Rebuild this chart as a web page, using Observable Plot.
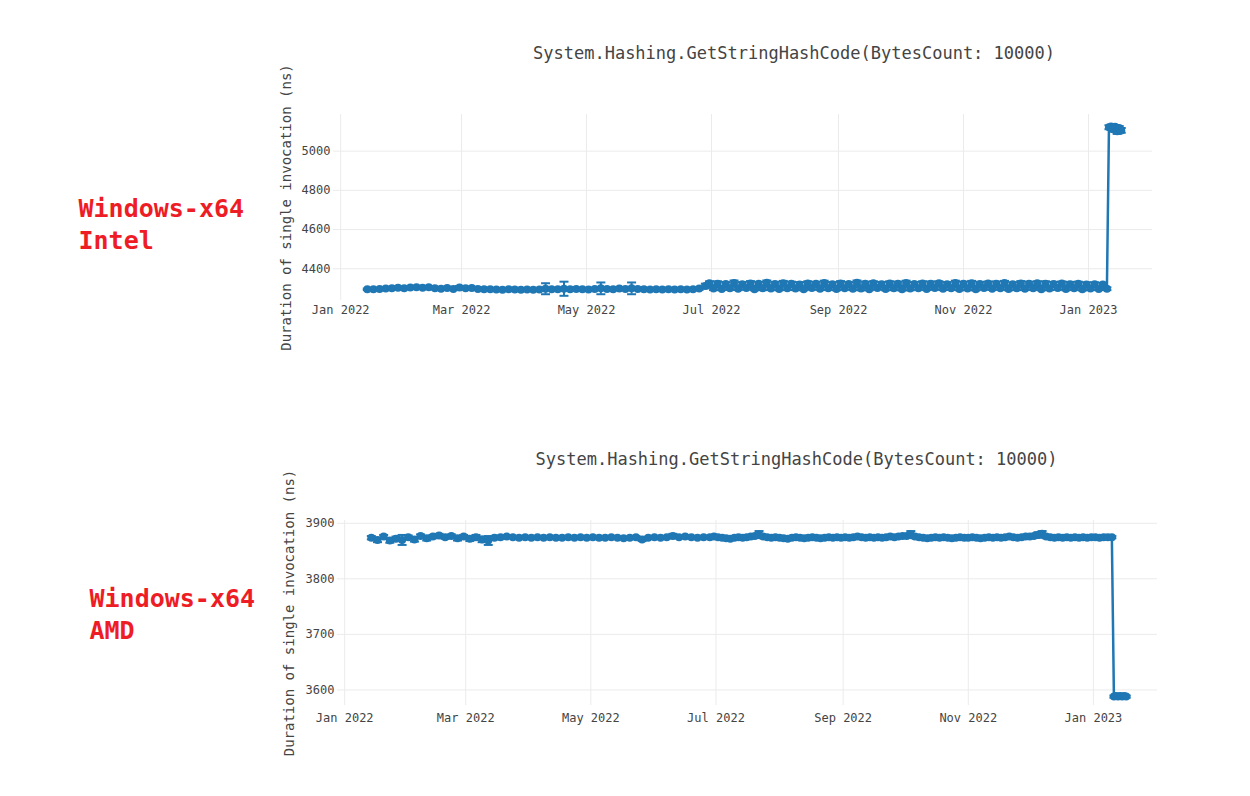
<!DOCTYPE html>
<html><head><meta charset="utf-8">
<script src="https://cdn.jsdelivr.net/npm/d3@7"></script>
<script src="https://cdn.jsdelivr.net/npm/@observablehq/plot@0.6"></script>
<style>
html,body{margin:0;padding:0;background:#fff;}
#root{position:relative;width:1250px;height:796px;overflow:hidden;background:#fff;}
#root svg{position:absolute;left:0;}
</style></head><body><div id="root"></div>
<script>
// ---- data ----
const runDates = [
 "2022-01-14","2022-01-17","2022-01-20","2022-01-23","2022-01-26","2022-01-29",
 "2022-02-01","2022-02-04","2022-02-07","2022-02-10","2022-02-13","2022-02-16","2022-02-19","2022-02-22","2022-02-25","2022-02-28",
 "2022-03-03","2022-03-06","2022-03-09","2022-03-12","2022-03-15","2022-03-18","2022-03-21","2022-03-24","2022-03-27","2022-03-30",
 "2022-04-02","2022-04-05","2022-04-08","2022-04-11","2022-04-14","2022-04-17","2022-04-20","2022-04-23","2022-04-26","2022-04-29",
 "2022-05-02","2022-05-05","2022-05-08","2022-05-11","2022-05-14","2022-05-17","2022-05-20","2022-05-23","2022-05-26","2022-05-29",
 "2022-06-01","2022-06-04","2022-06-07","2022-06-10","2022-06-13","2022-06-16","2022-06-19","2022-06-22","2022-06-25",
 "2022-06-28","2022-06-30",
 "2022-07-02","2022-07-04","2022-07-06","2022-07-08","2022-07-10","2022-07-12","2022-07-14","2022-07-16","2022-07-18","2022-07-20","2022-07-22","2022-07-24","2022-07-26","2022-07-28","2022-07-30",
 "2022-08-01","2022-08-03","2022-08-05","2022-08-07","2022-08-09","2022-08-11","2022-08-13","2022-08-15","2022-08-17","2022-08-19","2022-08-21","2022-08-23","2022-08-25","2022-08-27","2022-08-29","2022-08-31",
 "2022-09-02","2022-09-04","2022-09-06","2022-09-08","2022-09-10","2022-09-12","2022-09-14","2022-09-16","2022-09-18","2022-09-20","2022-09-22","2022-09-24","2022-09-26","2022-09-28","2022-09-30",
 "2022-10-02","2022-10-04","2022-10-06","2022-10-08","2022-10-10","2022-10-12","2022-10-14","2022-10-16","2022-10-18","2022-10-20","2022-10-22","2022-10-24","2022-10-26","2022-10-28","2022-10-30",
 "2022-11-01","2022-11-03","2022-11-05","2022-11-07","2022-11-09","2022-11-11","2022-11-13","2022-11-15","2022-11-17","2022-11-19","2022-11-21","2022-11-23","2022-11-25","2022-11-27","2022-11-29",
 "2022-12-01","2022-12-03","2022-12-05","2022-12-07","2022-12-09","2022-12-11","2022-12-13","2022-12-15","2022-12-17","2022-12-19","2022-12-21","2022-12-23","2022-12-25","2022-12-27","2022-12-29","2022-12-31",
 "2023-01-02","2023-01-04","2023-01-06","2023-01-08","2023-01-10",
 "2023-01-11","2023-01-12","2023-01-13","2023-01-14","2023-01-15","2023-01-16","2023-01-17"
];

const intelValues = [
 4295,4296,4297,4299,4301,4303,
 4301,4304,4306,4303,4305,4300,4298,4302,4297,4304,
 4300,4302,4297,4295,4296,4294,4293,4295,4294,4293,
 4294,4293,4294,4298,4295,4296,4298,4296,4297,4295,
 4294,4297,4300,4297,4296,4299,4297,4300,4297,4296,
 4294,4295,4294,4295,4294,4295,4294,4296,4299,
 4312,4326,
 4299,4324,4297,4322,4301,4327,4298,4321,4302,4325,4296,4323,4300,4328,4299,
 4322,4297,4326,4301,4324,4299,4320,4296,4325,4302,4323,4298,4327,4300,4321,4297,
 4325,4301,4322,4298,4328,4299,4323,4296,4326,4302,4321,4297,4325,4300,4324,
 4296,4327,4299,4322,4301,4325,4297,4323,4302,4326,4298,4321,4300,4327,4297,
 4324,4299,4326,4296,4322,4302,4325,4298,4323,4301,4327,4297,4321,4300,4325,
 4298,4323,4301,4326,4296,4324,4299,4322,4302,4325,4297,4321,4300,4324,4296,4320,
 4299,4321,4297,4319,4298,
 5122,5126,5112,5124,5102,5118,5106
];
const intelErrors = [
 4,4,5,5,6,6,
 6,6,7,6,7,5,5,6,5,8,
 6,6,5,5,5,4,4,5,4,4,
 5,4,5,28,5,6,36,6,6,5,
 5,6,30,6,5,8,6,30,6,5,
 5,5,4,5,4,5,4,5,6,
 12,10,
 8,12,6,10,9,13,7,11,8,12,6,10,9,12,8,
 11,7,12,9,10,8,12,6,11,9,10,7,12,8,11,7,
 12,8,10,7,12,9,11,6,10,8,12,7,11,9,10,
 7,12,9,10,8,11,6,12,9,10,7,11,8,12,7,
 10,8,12,7,11,9,10,6,12,8,11,7,10,9,12,
 7,11,9,10,6,12,8,11,9,10,7,12,8,10,7,11,
 8,10,6,9,7,
 10,8,12,9,14,10,12
];

const amdValues = [
 3874,3870,3876,3869,3872,3870,
 3875,3871,3877,3873,3876,3878,3875,3877,3873,3876,
 3872,3875,3871,3869,3874,3875,3876,3875,3874,3875,
 3874,3875,3874,3875,3874,3874,3875,3874,3875,3874,
 3875,3874,3874,3875,3874,3873,3874,3875,3871,3874,
 3875,3874,3875,3877,3875,3876,3875,3874,3875,
 3875,3876,
 3875,3874,3873,3872,3874,3875,3874,3875,3876,3877,3880,3876,3875,3874,3875,
 3874,3873,3872,3874,3875,3874,3873,3874,3875,3874,3873,3874,3875,3874,3875,3874,
 3875,3874,3875,3876,3875,3874,3875,3874,3875,3874,3875,3876,3875,3876,3877,
 3877,3880,3876,3875,3874,3873,3874,3875,3874,3875,3874,3873,3874,3875,3874,
 3874,3875,3874,3873,3874,3875,3874,3875,3874,3875,3876,3875,3874,3875,3876,
 3876,3877,3879,3881,3876,3875,3874,3875,3874,3875,3874,3875,3874,3875,3874,3875,
 3875,3874,3875,3875,3875,
 3588,3589,3588,3589,3588,3589,3588
];
const amdErrors = [
 3,4,3,4,4,9,
 3,4,3,4,3,3,3,3,4,3,
 4,4,5,8,3,3,2,2,2,2,
 2,2,2,2,2,2,2,2,2,2,
 2,2,2,2,2,2,2,2,3,2,
 2,2,2,4,2,2,2,2,2,
 2,2,
 2,2,2,2,2,2,2,2,2,3,6,3,2,2,2,
 2,2,2,2,2,2,2,2,2,2,2,2,2,2,2,2,
 2,2,2,2,2,2,2,2,2,2,2,2,2,2,3,
 3,6,3,2,2,2,2,2,2,2,2,2,2,2,2,
 2,2,2,2,2,2,2,2,2,2,2,2,2,2,2,
 2,3,5,5,3,2,2,2,2,2,2,2,2,2,2,2,
 2,2,2,2,2,
 2,2,2,2,2,2,2
];

const xTickLabels = ["2022-01-01","2022-03-01","2022-05-01","2022-07-01","2022-09-01","2022-11-01","2023-01-01"];
const intelYTicks = [4400, 4600, 4800, 5000];
const amdYTicks = [3600, 3700, 3800, 3900];
const chartTitle = "System.Hashing.GetStringHashCode(BytesCount: 10000)";
const yAxisTitle = "Duration of single invocation (ns)";
const intelLabel = "Windows-x64\nIntel";
const amdLabel = "Windows-x64\nAMD";

// ---- build ----
const blue = "#1f77b4";
const mono = "'DejaVu Sans Mono', 'Liberation Mono', monospace";
const xDomain = [new Date(Date.UTC(2021, 11, 28, 12)), new Date(Date.UTC(2023, 1, 1, 6))];
const xTickDates = xTickLabels.map(d => new Date(d));
const fmt = d3.utcFormat("%b %Y");

function rows(vals, errs) {
  return runDates.map((d, i) => ({date: new Date(d), value: vals[i], lo: vals[i] - errs[i], hi: vals[i] + errs[i]}));
}
const capSymbol = {draw(ctx) { ctx.moveTo(-4.5, 0); ctx.lineTo(4.5, 0); }};

function chart(o) {
  const data = rows(o.values, o.errors);
  return Plot.plot({
    width: 1250, height: o.height,
    marginTop: o.mt, marginBottom: o.mb, marginLeft: o.ml, marginRight: o.mr,
    style: {fontFamily: mono, fontSize: "12px", color: "#444", background: "transparent", overflow: "visible"},
    x: {type: "utc", domain: xDomain},
    y: {domain: o.yDomain},
    marks: [
      Plot.gridX({ticks: xTickDates, stroke: "#ebebeb", strokeOpacity: 1}),
      Plot.gridY({ticks: o.yTicks, stroke: "#ebebeb", strokeOpacity: 1}),
      Plot.axisX({ticks: xTickDates, tickSize: 0, tickPadding: o.xPad, tickFormat: fmt, label: null, fill: "#444", fontSize: 12}),
      Plot.axisY({ticks: o.yTicks, tickSize: 0, tickPadding: 3, tickFormat: d3.format("d"), label: null, fill: "#444", fontSize: 12}),
      Plot.ruleX(data, {x: "date", y1: "lo", y2: "hi", stroke: blue, strokeWidth: 2}),
      Plot.dot(data, {x: "date", y: "hi", symbol: capSymbol, stroke: blue, fill: "none", strokeWidth: 2}),
      Plot.dot(data, {x: "date", y: "lo", symbol: capSymbol, stroke: blue, fill: "none", strokeWidth: 2}),
      Plot.line(data, {x: "date", y: "value", stroke: blue, strokeWidth: 2.5}),
      Plot.dot(data, {x: "date", y: "value", r: 4, fill: blue, stroke: "none"}),
      Plot.text([chartTitle], {frameAnchor: "top", dx: o.titleDx, dy: -68, fontSize: 17, fill: "#444"}),
      Plot.text([yAxisTitle], {frameAnchor: "left", textAnchor: "middle", lineAnchor: "middle", rotate: -90, dx: o.yLabelDx, fontSize: 14, fill: "#444"}),
      Plot.text([o.label], {frameAnchor: "left", textAnchor: "start", dx: o.labelDx, dy: o.labelDy, fontSize: 25, fontWeight: "bold", fill: "#ee1c25", lineHeight: 1.3})
    ]
  });
}

const root = document.getElementById("root");
const c1 = chart({values: intelValues, errors: intelErrors, height: 400, mt: 114, mb: 100, ml: 333, mr: 98, xPad: 5,
  yDomain: [4238, 5187], yTicks: intelYTicks, titleDx: 51, yLabelDx: -47, label: intelLabel, labelDx: -255, labelDy: 15});
c1.style.top = "0px";
root.appendChild(c1);
const c2 = chart({values: amdValues, errors: amdErrors, height: 396, mt: 120, mb: 91, ml: 337, mr: 93, xPad: 8,
  yDomain: [3572, 3905], yTicks: amdYTicks, titleDx: 49, yLabelDx: -48, label: amdLabel, labelDx: -248, labelDy: -0.5});
c2.style.top = "400px";
root.appendChild(c2);
</script>
</body></html>
